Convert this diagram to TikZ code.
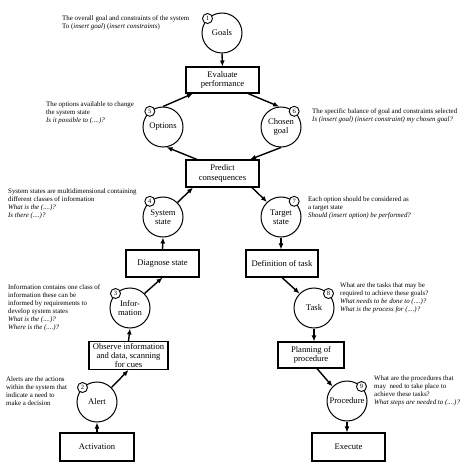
\documentclass[tikz,border=0pt]{standalone}
\usepackage{fontspec}
\setmainfont{Liberation Serif}
\usetikzlibrary{arrows.meta}
\tikzset{
  circ/.style={circle, draw, line width=1pt, minimum size=40pt, inner sep=0pt, align=center, font=\fontsize{8.6}{9.4}\selectfont},
  box/.style={rectangle, draw, line width=1.1pt, inner sep=0pt, align=center, font=\fontsize{8.6}{9.4}\selectfont},
  badge/.style={circle, draw, line width=0.9pt, fill=white, minimum size=10pt, inner sep=0pt, font=\fontsize{6.5}{7}\selectfont},
  anno/.style={anchor=north west, inner sep=0pt, align=left, font=\fontsize{6.9}{8}\selectfont},
  arr/.style={-{Latex[length=6pt,width=5pt]}, line width=1.4pt}
}
\begin{document}
\begin{tikzpicture}[x=1pt,y=-1pt]
\useasboundingbox (0,0) rectangle (474,468);
% circles
\node[circ] (goals) at (222,33) {Goals};
\node[circ] (options) at (163,127) {Options};
\node[circ] (chosen) at (281,127) {Chosen\\goal};
\node[circ] (system) at (163,217) {System\\state};
\node[circ] (target) at (281,217) {Target\\state};
\node[circ] (info) at (130,308) {Infor-\\mation};
\node[circ] (task) at (314,308) {Task};
\node[circ] (alert) at (97,402) {Alert};
\node[circ] (proc) at (347,401) {Procedure};
% boxes
\node[box, minimum width=73pt, minimum height=26pt] (eval) at (222.5,80) {Evaluate\\performance};
\node[box, minimum width=73pt, minimum height=27pt] (pred) at (222.5,173.5) {Predict\\consequences};
\node[box, minimum width=73pt, minimum height=27pt] (diag) at (162.5,263.5) {Diagnose state};
\node[box, minimum width=72pt, minimum height=27pt] (defn) at (282,263.5) {Definition of task};
\node[box, minimum width=79pt, minimum height=28pt, font=\fontsize{8.6}{8.9}\selectfont] (obs) at (128.5,355.5) {Observe information\\and data, scanning\\for cues};
\node[box, minimum width=66pt, minimum height=26pt] (plan) at (311,355) {Planning of\\procedure};
\node[box, minimum width=74pt, minimum height=28pt] (act) at (97,447) {Activation};
\node[box, minimum width=73pt, minimum height=28pt] (exec) at (348.5,447) {Execute};
% badges
\node[badge] (b1) at (goals.135) {1};
\node[badge] (b2) at (alert.135) {2};
\node[badge] (b3) at (info.135) {3};
\node[badge] (b4) at (system.130) {4};
\node[badge] (b5) at (options.130) {5};
\node[badge] (b6) at (chosen.50) {6};
\node[badge] (b7) at (target.50) {7};
\node[badge] (b8) at (task.45) {8};
\node[badge] (b9) at (proc.45) {9};
% arrows
\draw[arr] (goals.south) -- (eval.north);
\draw[arr] (options.north) -- ([xshift=-29.5pt]eval.south);
\draw[arr] ([xshift=25.5pt]eval.south) -- (chosen.95);
\draw[arr] (chosen.south) -- ([xshift=27.5pt]pred.north);
\draw[arr] ([xshift=-25.5pt]pred.north) -- (options.-80);
\draw[arr] (system.45) -- ([xshift=-29.5pt]pred.south);
\draw[arr] ([xshift=29.5pt]pred.south) -- (target.133);
\draw[arr] (diag.north) -- (system.south);
\draw[arr] (target.south) -- (target.south |- defn.north);
\draw[arr] (info.45) -- (diag.south);
\draw[arr] (defn.south) -- (task.135);
\draw[arr] (obs.north) -- (info.south);
\draw[arr] (task.south) -- (task.south |- plan.north);
\draw[arr] (alert.45) -- (obs.south);
\draw[arr] ([xshift=6pt]plan.south) -- (proc.135);
\draw[arr] (act.north) -- (alert.south);
\draw[arr] (proc.south) -- (proc.south |- exec.north);
% annotations
\node[anno] (a1) at (62,15) {The overall goal and constraints of the system\\To (\textit{insert goal}) (\textit{insert constraints})};
\node[anno] (a5) at (46,102) {The options available to change\\the system state\\\textit{Is it possible to (....)?}};
\node[anno] (a6) at (312,108) {The specific balance of goal and constraints selected\\\textit{Is (insert goal) (insert constraint) my chosen goal?}};
\node[anno] (a4) at (8,189) {System states are multidimensional containing\\different classes of information\\\textit{What is the (....)?}\\\textit{Is there (....)?}};
\node[anno] (a7) at (308,197) {Each option should be considered as\\a target state\\\textit{Should (insert option) be performed?}};
\node[anno] (a3) at (8,284) {Information contains one class of\\information these can be\\informed by requirements to\\develop system states\\\textit{What is the (....)?}\\\textit{Where is the (....)?}};
\node[anno] (a8) at (340,283) {What are the tasks that may be\\required to achieve these goals?\\\textit{What needs to be done to (....)?}\\\textit{What is the process for (....)?}};
\node[anno] (a2) at (6,377) {Alerts are the actions\\within the system that\\indicate a need to\\make a decision};
\node[anno] (a9) at (374,376) {What are the procedures that\\may\ \ need to take place to\\achieve these tasks?\\\textit{What steps are needed to (....)?}};
\end{tikzpicture}
\end{document}
